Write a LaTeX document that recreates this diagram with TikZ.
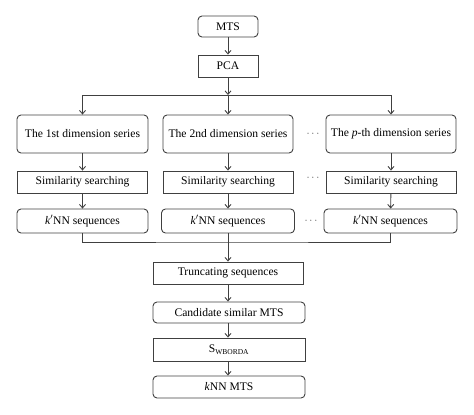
\documentclass[tikz,border=0pt]{standalone}
\usepackage{fontspec}
\setmainfont{Liberation Serif}
\usetikzlibrary{arrows.meta}

\tikzset{
  box/.style={draw=black!75, line width=0.9pt, inner sep=0pt, minimum height=22pt,
    font=\fontsize{11.6}{13}\selectfont},
  rbox/.style={box, rounded corners=4pt},
  flow/.style={draw=black!75, line width=0.9pt, -{Straight Barb[length=3.5pt,width=6pt]}},
  link/.style={draw=black!75, line width=0.9pt},
  etc/.style={font=\fontsize{11}{12}\selectfont, text=black!70},
}

\begin{document}
\begin{tikzpicture}[x=1pt,y=-1pt]
  \useasboundingbox (0,0) rectangle (474,415);
  % top
  \node[rbox, minimum width=60pt, minimum height=21pt] (mts) at (228,26.5) {MTS};
  \node[box, minimum width=60pt] (pca) at (228,66) {PCA};
  % dimension series
  \node[rbox, minimum width=131pt, minimum height=38pt] (dim1) at (82.5,134) {The 1st dimension series};
  \node[rbox, minimum width=130pt, minimum height=38pt] (dim2) at (228,134) {The 2nd dimension series};
  \node[rbox, minimum width=130pt, minimum height=38pt] (dimp) at (391,134) {The \textit{p}-th dimension series};
  \node[etc] (dotsa) at (313,134) {$\cdots$};
  % searching
  \node[box, minimum width=130pt] (sim1) at (82.5,182) {Similarity searching};
  \node[box, minimum width=130pt] (sim2) at (228,182) {Similarity searching};
  \node[box, minimum width=130pt] (simp) at (391,182) {Similarity searching};
  \node[etc] (dotsb) at (313,178) {$\cdots$};
  % neighbours
  \node[rbox, minimum width=131pt, minimum height=24pt] (knn1) at (82.5,221) {\textit{k}$'$NN sequences};
  \node[rbox, minimum width=133pt, minimum height=24pt] (knn2) at (228,221) {\textit{k}$'$NN sequences};
  \node[rbox, minimum width=133pt, minimum height=24pt] (knnp) at (390.5,221) {\textit{k}$'$NN sequences};
  \node[etc] (dotsc) at (311,221) {$\cdots$};
  % bottom
  \node[box, minimum width=150pt] (trunc) at (228,273) {Truncating sequences};
  \node[rbox, minimum width=152pt, minimum height=21pt] (cand) at (229,312.5) {Candidate similar MTS};
  \node[box, minimum width=152pt, minimum height=23pt] (wborda) at (229,349.5) {S\textsubscript{\fontsize{7.5}{8}\selectfont WBORDA}};
  \node[rbox, minimum width=152pt] (knnmts) at (229,387) {\textit{k}NN MTS};

  \coordinate (split) at (228,95);
  \coordinate (splitl) at (82.5,95);
  \coordinate (splitr) at (391,95);
  \coordinate (join) at (228,242);

  \draw[flow] (mts) -- (pca);
  \draw[flow] (pca) -- (split);
  \draw[link] (splitl) -- (splitr);
  \draw[flow] (splitl) -- (dim1);
  \draw[flow] (split) -- (dim2);
  \draw[flow] (splitr) -- (dimp);
  \draw[flow] (dim1) -- (sim1);
  \draw[flow] (dim2) -- (sim2);
  \draw[flow] (dimp) -- (simp);
  \draw[flow] (sim1) -- (knn1);
  \draw[flow] (sim2) -- (knn2);
  \draw[flow] (simp) -- (knnp);
  \draw[link] (knn1) |- (join) -| (knnp);
  \draw[link] (knn2) -- (join);
  \draw[flow] (join) -- (trunc);
  \draw[flow] (trunc) -- (trunc |- cand.north);
  \draw[flow] (trunc |- cand.south) -- (trunc |- wborda.north);
  \draw[flow] (trunc |- wborda.south) -- (trunc |- knnmts.north);
\end{tikzpicture}
\end{document}
